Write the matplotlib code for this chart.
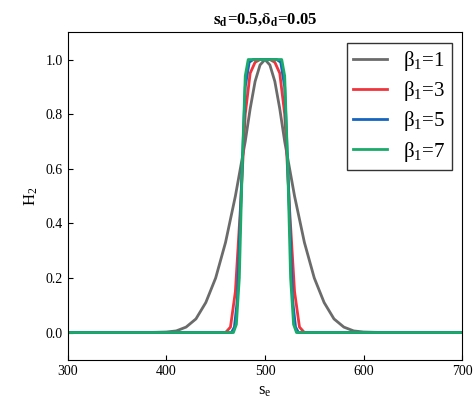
import matplotlib
matplotlib.use("Agg")
import matplotlib.pyplot as plt

plt.rcParams['font.family'] = ['Liberation Serif', 'DejaVu Serif']
plt.rcParams['mathtext.fontset'] = 'stix'

x1 = [300, 380, 400, 410, 420, 430, 440, 450, 460, 470, 475, 480, 485, 490, 495, 500, 505, 510, 515, 520, 525, 530, 540, 550, 560, 570, 580, 590, 600, 620, 700]
y1 = [0, 0, 0.002, 0.006, 0.02, 0.05, 0.11, 0.2, 0.33, 0.5, 0.6, 0.7, 0.82, 0.92, 0.98, 1.0, 0.98, 0.92, 0.82, 0.7, 0.6, 0.5, 0.33, 0.2, 0.11, 0.05, 0.02, 0.006, 0.002, 0, 0]
x3 = [300, 460, 465, 470, 475, 480, 485, 490, 495, 500, 505, 510, 515, 520, 525, 530, 535, 540, 700]
y3 = [0, 0, 0.02, 0.15, 0.45, 0.8, 0.95, 0.99, 1.0, 1.0, 1.0, 0.99, 0.95, 0.8, 0.45, 0.15, 0.02, 0, 0]
x5 = [300, 466, 469, 472, 476, 480, 484, 488, 500, 512, 516, 520, 524, 528, 531, 534, 700]
y5 = [0, 0, 0.02, 0.12, 0.52, 0.9, 0.99, 1.0, 1.0, 1.0, 0.99, 0.9, 0.52, 0.12, 0.02, 0, 0]
x7 = [300, 468, 471, 474, 477, 480, 483, 486, 500, 514, 517, 520, 523, 526, 529, 532, 700]
y7 = [0, 0, 0.03, 0.2, 0.62, 0.94, 1.0, 1.0, 1.0, 1.0, 1.0, 0.94, 0.62, 0.2, 0.03, 0, 0]

labels = [r'$\mathregular{\beta_1}$=1', r'$\mathregular{\beta_1}$=3', r'$\mathregular{\beta_1}$=5', r'$\mathregular{\beta_1}$=7']
colors = ['#6b6b6b', '#f0343c', '#1565c0', '#1aaa6a']

fig = plt.figure(figsize=(4.74, 4.08), dpi=100)
ax = fig.add_axes([0.143, 0.118, 0.832, 0.803])
for (x, y), lab, c in zip([(x1, y1), (x3, y3), (x5, y5), (x7, y7)], labels, colors):
    ax.plot(x, y, color=c, lw=2, label=lab)
ax.set_xlim(300, 700)
ax.set_ylim(-0.1, 1.1)
ax.set_xticks([300, 400, 500, 600, 700])
ax.set_yticks([0, 0.2, 0.4, 0.6, 0.8, 1.0])
ax.set_yticklabels(['0.0', '0.2', '0.4', '0.6', '0.8', '1.0'])
ax.tick_params(direction='in', labelsize=10)
ax.set_xlabel(r'$\mathregular{s_e}$', fontsize=12)
ax.set_ylabel(r'$\mathregular{H_2}$', fontsize=12)
ax.set_title(r'$\mathbf{s_d}$=0.5,$\mathbf{\delta_d}$=0.05', fontsize=12, fontweight='bold')
leg = ax.legend(loc='upper right', fontsize=15, fancybox=False, edgecolor='black',
                handlelength=1.6, borderpad=0.3, labelspacing=0.3)
leg.get_frame().set_linewidth(1.0)
fig.savefig('out.png', dpi=100)
